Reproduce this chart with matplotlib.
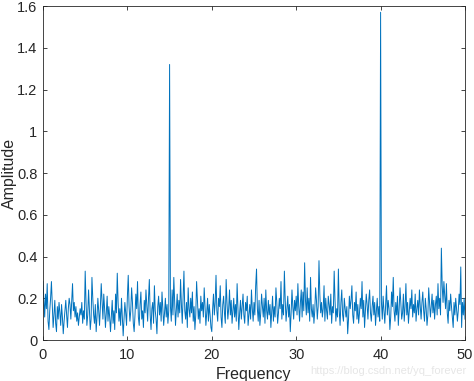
import matplotlib
matplotlib.use("Agg")
import matplotlib.pyplot as plt
import numpy as np
from matplotlib.ticker import FormatStrFormatter

# frequency axis, 0.1 Hz steps from 0 to 50
freq_start, freq_stop, freq_step = 0.0, 50.0, 0.1

# amplitude, one value per frequency step (10 per row)
amplitude = [
    # 0 - 5
    0.28, 0.19, 0.11, 0.22, 0.15, 0.27, 0.09, 0.05, 0.14, 0.20,
    0.28, 0.17, 0.06, 0.12, 0.19, 0.08, 0.04, 0.16, 0.10, 0.18,
    0.13, 0.07, 0.17, 0.11, 0.03, 0.09, 0.14, 0.19, 0.12, 0.06,
    0.15, 0.20, 0.17, 0.10, 0.19, 0.27, 0.14, 0.18, 0.11, 0.16,
    0.09, 0.13, 0.07, 0.11, 0.15, 0.12, 0.18, 0.08, 0.14, 0.10,
    # 5 - 10
    0.33, 0.18, 0.07, 0.12, 0.24, 0.15, 0.05, 0.10, 0.30, 0.20,
    0.12, 0.08, 0.17, 0.04, 0.11, 0.20, 0.14, 0.07, 0.16, 0.27,
    0.19, 0.10, 0.22, 0.15, 0.06, 0.13, 0.21, 0.09, 0.16, 0.11,
    0.04, 0.12, 0.19, 0.08, 0.14, 0.05, 0.22, 0.13, 0.32, 0.18,
    0.09, 0.15, 0.07, 0.20, 0.11, 0.02, 0.10, 0.18, 0.13, 0.07,
    # 10 - 15
    0.21, 0.31, 0.16, 0.09, 0.14, 0.25, 0.18, 0.08, 0.04, 0.12,
    0.22, 0.15, 0.28, 0.11, 0.07, 0.17, 0.23, 0.10, 0.14, 0.06,
    0.19, 0.13, 0.24, 0.16, 0.09, 0.20, 0.29, 0.12, 0.05, 0.15,
    0.18, 0.08, 0.26, 0.14, 0.10, 0.03, 0.16, 0.21, 0.12, 0.18,
    0.09, 0.23, 0.15, 0.07, 0.13, 0.20, 0.11, 0.17, 0.08, 0.14,
    # 15 - 20
    1.32, 0.16, 0.09, 0.24, 0.12, 0.30, 0.18, 0.07, 0.15, 0.22,
    0.11, 0.19, 0.13, 0.29, 0.17, 0.08, 0.21, 0.33, 0.14, 0.10,
    0.18, 0.06, 0.25, 0.15, 0.11, 0.20, 0.13, 0.23, 0.09, 0.16,
    0.05, 0.12, 0.28, 0.19, 0.10, 0.15, 0.08, 0.21, 0.14, 0.18,
    0.11, 0.25, 0.16, 0.07, 0.13, 0.20, 0.09, 0.17, 0.12, 0.06,
    # 20 - 25
    0.04, 0.15, 0.22, 0.12, 0.18, 0.31, 0.14, 0.09, 0.20, 0.16,
    0.26, 0.11, 0.06, 0.17, 0.21, 0.13, 0.08, 0.29, 0.18, 0.10,
    0.15, 0.24, 0.12, 0.19, 0.08, 0.14, 0.20, 0.11, 0.17, 0.09,
    0.27, 0.15, 0.05, 0.13, 0.19, 0.10, 0.16, 0.22, 0.12, 0.08,
    0.18, 0.14, 0.21, 0.07, 0.12, 0.17, 0.10, 0.24, 0.15, 0.09,
    # 25 - 30
    0.18, 0.12, 0.26, 0.34, 0.15, 0.09, 0.19, 0.07, 0.13, 0.22,
    0.16, 0.11, 0.20, 0.08, 0.24, 0.14, 0.10, 0.19, 0.12, 0.17,
    0.06, 0.14, 0.21, 0.09, 0.16, 0.11, 0.25, 0.18, 0.08, 0.13,
    0.20, 0.15, 0.28, 0.10, 0.17, 0.12, 0.33, 0.19, 0.09, 0.15,
    0.21, 0.11, 0.17, 0.04, 0.13, 0.24, 0.16, 0.10, 0.19, 0.14,
    # 30 - 35
    0.21, 0.12, 0.27, 0.16, 0.09, 0.18, 0.24, 0.11, 0.23, 0.14,
    0.37, 0.19, 0.12, 0.25, 0.13, 0.20, 0.09, 0.30, 0.15, 0.11,
    0.17, 0.08, 0.14, 0.25, 0.19, 0.10, 0.16, 0.38, 0.22, 0.13,
    0.18, 0.11, 0.15, 0.26, 0.09, 0.20, 0.14, 0.10, 0.21, 0.17,
    0.12, 0.22, 0.08, 0.16, 0.13, 0.33, 0.19, 0.09, 0.15, 0.11,
    # 35 - 40
    0.34, 0.14, 0.07, 0.18, 0.24, 0.12, 0.09, 0.20, 0.15, 0.11,
    0.16, 0.03, 0.10, 0.21, 0.15, 0.19, 0.26, 0.12, 0.08, 0.18,
    0.14, 0.23, 0.10, 0.17, 0.08, 0.13, 0.20, 0.15, 0.28, 0.11,
    0.19, 0.06, 0.14, 0.22, 0.17, 0.10, 0.19, 0.24, 0.13, 0.09,
    0.16, 0.21, 0.12, 0.18, 0.07, 0.14, 0.20, 0.11, 0.16, 0.09,
    # 40 - 45
    1.57, 0.18, 0.10, 0.21, 0.14, 0.08, 0.17, 0.26, 0.12, 0.19,
    0.15, 0.05, 0.11, 0.23, 0.16, 0.30, 0.14, 0.09, 0.18, 0.12,
    0.21, 0.07, 0.15, 0.25, 0.17, 0.10, 0.13, 0.22, 0.09, 0.16,
    0.27, 0.12, 0.18, 0.08, 0.14, 0.20, 0.15, 0.24, 0.11, 0.17,
    0.13, 0.22, 0.09, 0.15, 0.19, 0.12, 0.24, 0.16, 0.10, 0.18,
    # 45 - 50
    0.23, 0.14, 0.09, 0.20, 0.15, 0.07, 0.12, 0.25, 0.18, 0.11,
    0.16, 0.22, 0.13, 0.19, 0.10, 0.17, 0.21, 0.12, 0.27, 0.15,
    0.20, 0.12, 0.44, 0.26, 0.18, 0.28, 0.21, 0.15, 0.27, 0.13,
    0.08, 0.19, 0.14, 0.22, 0.16, 0.11, 0.06, 0.18, 0.12, 0.20,
    0.15, 0.09, 0.14, 0.22, 0.17, 0.35, 0.06, 0.18, 0.12, 0.20,
    0.10,
]

freq = np.arange(len(amplitude)) * freq_step + freq_start

plt.rcParams['font.family'] = ['Liberation Sans', 'DejaVu Sans']

fig = plt.figure(figsize=(4.74, 3.81), dpi=100)
ax = fig.add_axes([0.0907, 0.1076, 0.8903, 0.8766])

ax.plot(freq, amplitude, color="#0072BD", lw=0.7)

ax.set_xlim(freq_start, freq_stop)
ax.set_ylim(0, 1.6)
ax.set_xticks(np.arange(0, 51, 10))
ax.set_yticks(np.arange(0, 1.61, 0.2))
ax.yaxis.set_major_formatter(FormatStrFormatter('%g'))

for s in ax.spines.values():
    s.set_color("#262626")
    s.set_linewidth(0.6)
ax.tick_params(direction="in", top=True, right=True, length=3, width=0.6,
               colors="#262626", labelsize=10.5)
ax.tick_params(axis="x", pad=6)
ax.tick_params(axis="y", pad=4)

ax.set_xlabel("Frequency", fontsize=11.5, color="#262626", labelpad=3)
ax.set_ylabel("Amplitude", fontsize=11.5, color="#262626")
ax.yaxis.set_label_coords(-0.062, 0.5)

fig.text(0.985, 0.025, "https://blog.csdn.net/yq_forever", ha="right",
         va="center", fontsize=8, color="#e6e6e6")

fig.savefig("out.png", dpi=100)
